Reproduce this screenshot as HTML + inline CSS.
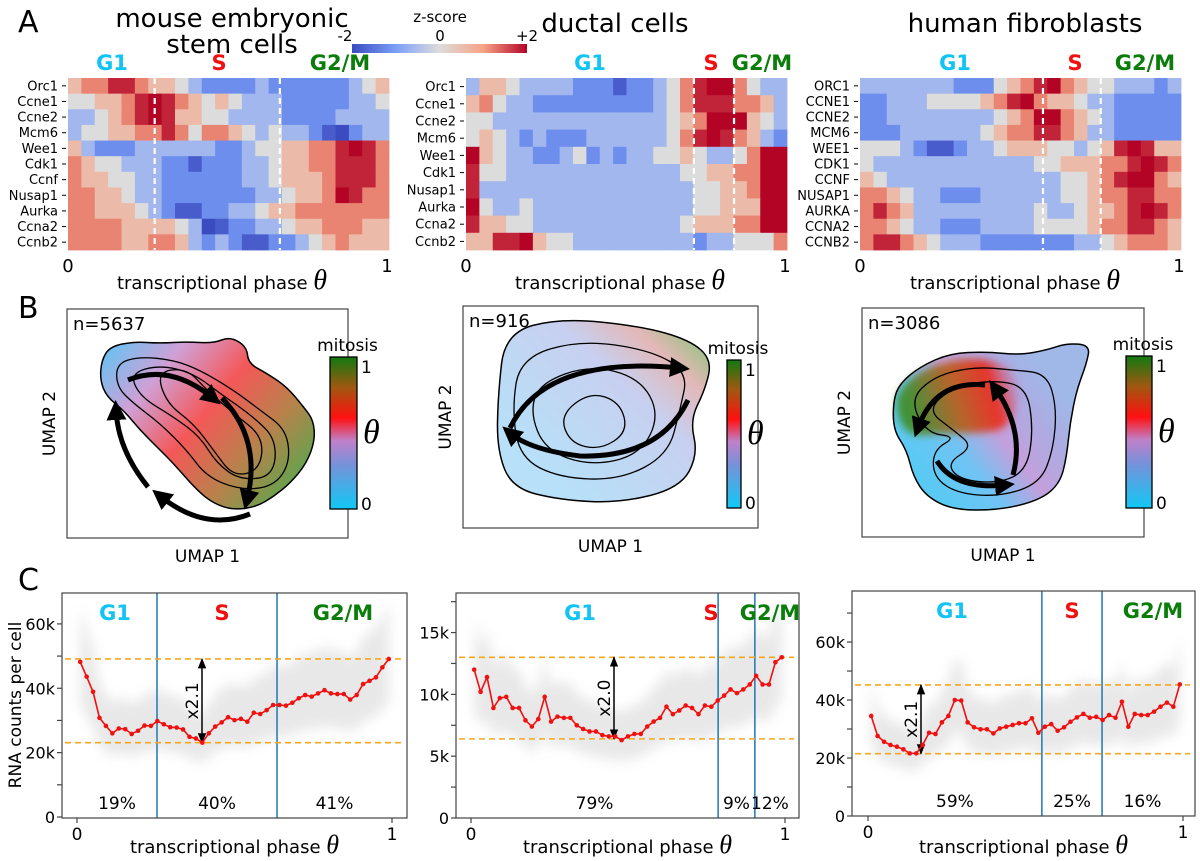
<!DOCTYPE html>
<html><head><meta charset="utf-8">
<style>
html,body{margin:0;padding:0;background:#fff;}
svg{display:block;font-family:"DejaVu Sans","Liberation Sans",sans-serif;}
</style></head>
<body>
<svg id="fig" width="1200" height="861" viewBox="0 0 1200 861" xmlns="http://www.w3.org/2000/svg">
<defs>
<linearGradient id="zcb" x1="0" x2="1" y1="0" y2="0">
<stop offset="0" stop-color="#3b4cc0"/><stop offset="0.25" stop-color="#7b9ff9"/><stop offset="0.5" stop-color="#dddcdc"/><stop offset="0.75" stop-color="#f6a385"/><stop offset="1" stop-color="#b40426"/>
</linearGradient>
<linearGradient id="mcb" x1="0" x2="0" y1="1" y2="0">
<stop offset="0" stop-color="#10c8f5"/><stop offset="0.3" stop-color="#7a90d8"/><stop offset="0.45" stop-color="#c080c8"/><stop offset="0.6" stop-color="#ff1010"/><stop offset="0.8" stop-color="#a05810"/><stop offset="1" stop-color="#107a10"/>
</linearGradient>
<linearGradient id="g1" gradientUnits="userSpaceOnUse" x1="105" y1="345" x2="290" y2="500">
<stop offset="0" stop-color="#30b0f0"/><stop offset="0.25" stop-color="#c080c8"/><stop offset="0.5" stop-color="#f02020"/><stop offset="0.75" stop-color="#a05810"/><stop offset="1" stop-color="#208a10"/>
</linearGradient>
<linearGradient id="g2" gradientUnits="userSpaceOnUse" x1="560" y1="480" x2="690" y2="340">
<stop offset="0" stop-color="#70c0f0"/><stop offset="0.6" stop-color="#90a0e0"/><stop offset="0.85" stop-color="#c87070"/><stop offset="1" stop-color="#50801a"/>
</linearGradient>
<linearGradient id="g3" gradientUnits="userSpaceOnUse" x1="920" y1="480" x2="1050" y2="380">
<stop offset="0" stop-color="#20b8f0"/><stop offset="0.3" stop-color="#40b0f0"/><stop offset="0.55" stop-color="#b080d0"/><stop offset="0.8" stop-color="#9090d8"/><stop offset="1" stop-color="#80a0e0"/>
</linearGradient>
<linearGradient id="g3b" gradientUnits="userSpaceOnUse" x1="905" y1="400" x2="1010" y2="370">
<stop offset="0" stop-color="#3a8a15"/><stop offset="0.45" stop-color="#b85a10"/><stop offset="0.8" stop-color="#f02010"/><stop offset="1" stop-color="#e04060" stop-opacity="0.3"/>
</linearGradient>
<filter id="blur4"><feGaussianBlur stdDeviation="6"/></filter>
<filter id="blur2"><feGaussianBlur stdDeviation="4"/></filter>
<marker id="ah" viewBox="0 0 10 10" refX="5" refY="5" markerWidth="4" markerHeight="4" orient="auto"><path d="M0,0 L10,5 L0,10 z" fill="#000"/></marker>
<marker id="da" viewBox="0 0 10 10" refX="9" refY="5" markerWidth="7" markerHeight="7" orient="auto-start-reverse"><path d="M0,1 L10,5 L0,9 z" fill="#000"/></marker>
</defs>
</svg>
<script>
// ---------- Heatmap data (z-score in half units: value/2 = z) ----------
const genesMouse = ["Orc1","Ccne1","Ccne2","Mcm6","Wee1","Cdk1","Ccnf","Nusap1","Aurka","Ccna2","Ccnb2"];
const heatMouse = [
[1,2,2,3,3,2,1,1,0,-1,-2,-2,-2,-2,-1,-2,-2,-2,-2,-2,-2,-1,0,1],
[0,0,1,1,2,3,4,3,2,1,0,1,0,-1,-1,-1,-2,-2,-2,-2,-2,-1,-1,0],
[-1,-1,0,1,2,3,4,3,1,1,0,0,-1,-1,-1,-1,-2,-2,-2,-2,-1,-1,-1,-1],
[-1,0,0,1,1,2,2,3,2,0,2,2,1,0,-1,0,-1,-1,-2,-3,-4,-2,-1,-1],
[1,-1,-2,-2,-2,-1,-1,-1,-1,-1,-1,-2,-2,-1,0,0,1,1,2,2,3,4,3,2],
[2,1,0,0,-1,-1,-1,-2,-2,-3,-2,-2,-2,-1,-1,0,1,1,2,2,3,3,3,2],
[2,1,1,0,0,-1,-1,-2,-2,-2,-2,-2,-2,-1,-1,0,1,1,1,2,3,3,3,2],
[2,2,1,1,0,-1,-1,-2,-2,-2,-2,-2,-2,-2,-1,-1,0,1,1,2,4,3,2,2],
[2,2,1,1,1,0,-1,-2,-3,-3,-2,-2,-1,-1,0,1,1,2,2,2,2,2,2,2],
[2,2,2,2,1,1,1,1,0,-1,-4,-3,-2,-2,-1,-1,0,1,1,2,2,2,1,1],
[2,2,2,2,1,1,2,2,1,-1,-2,-1,-2,-3,-3,-2,-2,-1,0,1,2,1,1,1]];
const genesDuct = ["Orc1","Ccne1","Ccne2","Mcm6","Wee1","Cdk1","Nusap1","Aurka","Ccna2","Ccnb2"];
const heatDuct = [
[-1,1,1,0,-1,-1,-1,-1,-2,-2,-2,-3,-2,-2,-1,0,2,3,4,4,2,0,-1,-1],
[1,2,0,-1,-1,-2,-2,-2,-2,-2,-2,-2,-2,-2,-1,0,2,3,3,3,2,2,1,-1],
[0,0,-1,-1,-1,-1,-1,-1,-1,-1,-1,-1,-1,-1,-1,0,1,2,4,4,4,1,0,-1],
[0,1,0,-1,-2,-1,-2,-2,-2,-1,-1,-1,-1,-1,-1,0,2,3,4,3,2,1,-1,-2],
[4,1,0,-1,-1,-2,-2,-1,0,-2,-1,-2,-1,-1,0,0,1,0,-1,-1,0,2,4,4],
[3,0,0,-1,-1,-1,-1,-1,-1,-1,-1,-1,-1,-1,-1,-1,0,0,1,1,2,2,4,4],
[3,-1,-1,-1,-1,-1,-1,-1,-1,-1,-1,-1,-1,-1,-1,-1,-1,0,0,1,1,2,4,4],
[4,0,-1,-1,0,-1,-1,-1,-1,-1,-1,-1,-1,-1,-1,-1,-1,0,0,1,1,1,4,4],
[3,1,1,0,0,-1,-1,-1,-1,-1,-1,-1,-1,-1,-1,-1,0,1,1,1,2,2,4,4],
[1,1,3,3,4,1,0,0,-1,-1,-1,-1,-1,-1,-1,-1,-1,-2,-1,-1,0,0,0,2]];
const genesHuman = ["ORC1","CCNE1","CCNE2","MCM6","WEE1","CDK1","CCNF","NUSAP1","AURKA","CCNA2","CCNB2"];
const heatHuman = [
[-1,-1,-1,-1,-1,-1,-1,-2,-2,-2,0,1,2,3,4,2,1,0,0,-1,-1,-1,-2,-1],
[-2,-2,-1,-1,-1,0,0,0,0,1,2,3,4,2,1,1,0,-1,-1,-2,-2,-2,-2,-2],
[-2,-2,-1,-1,-1,-1,-1,-1,-1,-1,0,1,2,4,4,2,1,0,-1,-2,-2,-2,-2,-2],
[-2,-2,-2,-1,-1,-1,-1,-1,-1,0,1,2,2,3,3,2,1,-1,-1,-2,-2,-2,-2,-2],
[0,0,0,-1,-2,-3,-3,-2,-1,-1,0,1,1,1,0,0,-1,0,1,3,4,3,1,1],
[0,-1,-1,-1,-1,-1,-1,-1,-1,-1,-1,-1,-1,0,0,1,1,1,2,2,3,4,3,2],
[1,0,-1,-1,-1,-1,-1,-1,-1,-1,-1,-1,-1,-1,-1,0,0,1,2,3,4,4,2,1],
[2,2,1,0,-1,-1,-2,-2,-2,-1,-1,-1,-1,-1,-1,0,0,1,2,2,3,3,2,2],
[2,3,2,1,-1,-1,-1,-1,-1,-1,-1,-1,-1,0,-1,-1,0,1,1,2,3,4,3,2],
[2,2,1,0,-1,-1,-2,-2,-2,-1,-1,-1,-1,0,0,0,0,1,2,2,3,3,2,1],
[2,3,3,2,1,0,-1,-1,-1,-2,-2,-2,-2,-2,-2,-2,-1,-1,0,1,2,2,2,1]];
const phaseBoundsMouse = [0.27, 0.66];
const phaseBoundsDuct = [0.71, 0.835];
const phaseBoundsHuman = [0.57, 0.75];

// ---------- RNA count curves (k counts per bin) ----------
const countsMouse = [48.2,43.6,38.9,30.8,28.3,26.0,27.5,27.3,25.8,26.8,28.4,28.3,29.8,28.8,27.9,27.8,27.2,24.9,24.4,23.1,26.0,28.1,29.4,31.0,30.1,30.5,29.6,32.4,32.0,33.2,34.8,34.8,34.6,35.5,36.9,37.9,37.4,38.4,39.4,38.4,38.2,38.2,36.5,37.9,41.3,42.3,43.4,46.5,49.1];
const countsDuct = [12.0,10.2,11.4,8.9,9.7,9.8,8.9,8.9,7.9,7.4,8.0,9.8,7.8,8.2,8.1,8.1,7.5,7.2,7.0,7.0,6.7,6.6,6.6,6.3,6.6,6.8,6.8,7.4,7.8,8.1,9.0,8.4,8.7,9.1,8.9,8.4,9.1,9.0,9.5,9.9,10.4,10.1,10.4,10.8,11.5,10.8,10.8,12.6,13.0];
const countsHuman = [34.5,27.6,25.6,24.5,23.9,23.0,21.6,21.6,24.5,28.7,28.3,32.3,34.5,40.0,39.8,32.3,30.6,29.9,29.9,28.5,30.2,30.8,31.4,32.0,32.0,33.7,28.7,30.8,31.7,29.4,30.6,32.5,34.0,35.2,33.9,34.2,33.1,34.8,33.9,39.4,30.8,35.2,34.8,34.8,36.0,37.7,39.1,37.7,45.4];
const foldMouse = [23.1, 49.1];
const foldDuct = [6.4, 13.0];
const foldHuman = [21.5, 45.2];
const linesMouse = [0.254, 0.635];
const linesDuct = [0.787, 0.904];
const linesHuman = [0.552, 0.743];
const pctMouse = ["19%","40%","41%"];
const pctDuct = ["79%","9%","12%"];
const pctHuman = ["59%","25%","16%"];
const ticksMouse = [0,10,20,30,40,50,60];
const ticksDuct = [0,2.5,5,7.5,10,12.5,15,17.5];
const ticksHuman = [0,10,20,30,40,50,60,70];

const NS = "http://www.w3.org/2000/svg";
const svg = document.getElementById('fig');
function mk(tag, attrs, parent){
  const e = document.createElementNS(NS, tag);
  for (const k in attrs) e.setAttribute(k, attrs[k]);
  (parent||svg).appendChild(e);
  return e;
}
function txt(x,y,s,size,opts,parent){
  const o = Object.assign({x:x,y:y,'font-size':size,fill:'#000'}, opts||{});
  const e = mk('text', o, parent);
  e.textContent = s;
  return e;
}
const stops = [[59,76,192],[123,159,249],[221,220,220],[246,163,133],[180,4,38]];
function cw(v){
  let t = Math.max(0, Math.min(1, 0.5 + v*0.15));
  const p = t*4; const i = Math.min(3, Math.floor(p)); const f = p - i;
  const a = stops[i], b = stops[i+1];
  return 'rgb(' + [0,1,2].map(k => Math.round(a[k] + (b[k]-a[k])*f)).join(',') + ')';
}
const CYAN = '#12c4f4', RED = '#f01010', GREEN = '#0a7d0a';

// ---------- Heatmaps ----------
function heatmap(name, genes, data, bounds, x0, x1, y0, y1, labels, labelX){
  const g = mk('g', {});
  
  
  const nr = genes.length, nc = data[0].length;
  const cwid = (x1-x0)/nc, rh = (y1-y0)/nr;
  for (let r=0;r<nr;r++){
    for (let c=0;c<nc;c++){
      const cell = mk('rect', {x:x0+c*cwid, y:y0+r*rh, width:cwid+0.4, height:rh+0.4, fill:cw(data[r][c])}, g);
      
      
    }
    const gl = txt(x0-10, y0+(r+0.5)*rh+4.5, genes[r], 13, {'text-anchor':'end'}, g);
    
    
    mk('line', {x1:x0-6, x2:x0-2, y1:y0+(r+0.5)*rh, y2:y0+(r+0.5)*rh, stroke:'#000'}, g);
  }
  bounds.forEach(b => {
    const xx = x0 + b*(x1-x0);
    const d = mk('line', {x1:xx, x2:xx, y1:y0, y2:y1, stroke:'#fff', 'stroke-width':2.2, 'stroke-dasharray':'6,4'}, g);
    
    
  });
  const t0 = txt(x0, y1+22, '0', 18, {'text-anchor':'middle'}, g);
  
  
  const t1 = txt(x1-2, y1+22, '1', 18, {'text-anchor':'middle'}, g);
  
  
  const xl = txt(labelX, y1+39, 'transcriptional phase ', 18, {'text-anchor':'middle'}, g);
  
  
  const th = mk('tspan', {'font-family':'Liberation Serif, serif', 'font-style':'italic', 'font-size':28}, xl);
  th.textContent = 'θ';
  const cols = [CYAN, RED, GREEN];
  labels.forEach((L,i) => {
    const pl = txt(L[1], 70, L[0], 21, {'text-anchor':'middle','font-weight':'bold',fill:cols[i]}, g);
    
    
  });
}
heatmap('heatmap-mouse', genesMouse, heatMouse, phaseBoundsMouse, 68, 389, 78, 250, [['G1',112],['S',219],['G2/M',340]], 222);
heatmap('heatmap-ductal', genesDuct, heatDuct, phaseBoundsDuct, 466, 787, 78, 250, [['G1',590],['S',711],['G2/M',762]], 620);
heatmap('heatmap-human', genesHuman, heatHuman, phaseBoundsHuman, 860, 1181, 78, 250, [['G1',955],['S',1075],['G2/M',1145]], 1015);

// titles
const pa = txt(18, 32, 'A', 30);  
const t1 = txt(232, 27, 'mouse embryonic', 26, {'text-anchor':'middle'});  
const t1b = txt(232, 53, 'stem cells', 26, {'text-anchor':'middle'});  
const t2 = txt(615, 32, 'ductal cells', 26, {'text-anchor':'middle'});  
const t3 = txt(1025, 32, 'human fibroblasts', 26, {'text-anchor':'middle'});  
const zc = mk('rect', {x:352, y:44, width:175, height:9, fill:'url(#zcb)'});  
const zl = txt(440, 22, 'z-score', 15, {'text-anchor':'middle'});  
[['-2',345],['0',440],['+2',527]].forEach(p => {
  const e = txt(p[1], 41, p[0], 15, {'text-anchor':'middle'});
  
  
});

// ---------- UMAP panels ----------
const pb = txt(18, 318, 'B', 30);  
function smooth(arr, ox, oy){
  const P = arr.map(p => [p[0]/3+ox, p[1]/3+oy]); const n = P.length;
  let d = 'M' + ((P[0][0]+P[1][0])/2) + ',' + ((P[0][1]+P[1][1])/2);
  for (let i=1;i<=n;i++){ const a = P[i%n], b = P[(i+1)%n]; d += ' Q'+a[0]+','+a[1]+' '+((a[0]+b[0])/2)+','+((a[1]+b[1])/2); }
  return d + 'Z';
}
function umap(name, box, cb, n, outline, fill, inner, arrows, ox, oy, extra, op){
  const g = mk('g', {});
  
  
  const bx = mk('rect', {x:box[0], y:box[1], width:box[2]-box[0], height:box[3]-box[1], fill:'#fff', stroke:'#444', 'stroke-width':1.2}, g);
  
  
  const cloud = mk('path', {d:smooth(outline, ox, oy), fill:fill, opacity:op}, g);
  
  
  if (extra) { const ex = mk('path', {d:smooth(extra, ox, oy), fill:'url(#g3b)', opacity:0.85, filter:'url(#blur2)'}, g);   }
  const oc = mk('path', {d:smooth(outline, ox, oy), fill:'none', stroke:'#000', 'stroke-width':1.5}, g);
  
  
  inner.forEach(c => {
    const ic = mk('path', {d:smooth(c, ox, oy), fill:'none', stroke:'#000', 'stroke-width':1.3}, g);
    
    
  });
  arrows.forEach(a => {
    const ar = mk('path', {d:a, fill:'none', stroke:'#000', 'stroke-width':5, 'marker-end':'url(#ah)'}, g);
    
    
  });
  const nl = txt(box[0]+6, box[1]+21, n, 18, {}, g);
  
  
  const cr = mk('rect', {x:cb[0], y:cb[1], width:cb[2]-cb[0], height:cb[3]-cb[1], fill:'url(#mcb)', stroke:'#000', 'stroke-width':1.3}, g);
  
  
  const mt = txt((cb[0]+cb[2])/2+4, cb[1]-6, 'mitosis', 17, {'text-anchor':'middle'}, g);
  
  
  const c1 = txt(cb[2]+4, cb[1]+16, '1', 17, {}, g);  
  const c0 = txt(cb[2]+4, cb[3]+1, '0', 17, {}, g);  
  const th = txt(cb[2]+6, (cb[1]+cb[3])/2+10, 'θ', 34, {'font-family':'Liberation Serif, serif','font-style':'italic'}, g);
   
  const u1 = txt((box[0]+box[2])/2, box[3]+24, 'UMAP 1', 17, {'text-anchor':'middle'}, g);
   
  const cy = (box[1]+box[3])/2;
  const u2 = txt(box[0]-12, cy, 'UMAP 2', 17, {'text-anchor':'middle', transform:'rotate(-90 '+(box[0]-12)+' '+cy+')'}, g);
   
}
const x3 = a => a.map(p => [p[0]*3, p[1]*3]);
umap('umap-mouse', [67,309,348,538], [330,357,357,509], 'n=5637',
  [[305,210],[330,170],[400,155],[480,160],[560,155],[640,160],[690,140],[740,170],[745,220],[800,250],[860,290],[910,350],[940,390],[945,450],[920,520],[870,580],[820,620],[770,650],[700,660],[640,640],[590,600],[520,520],[470,470],[420,420],[370,360],[320,320],[300,270]],
  'url(#g1)',
  [[[350,220],[420,200],[520,210],[600,240],[700,300],[780,360],[860,420],[870,520],[820,590],[720,600],[620,560],[560,480],[480,400],[400,340],[350,290]],
   [[390,250],[480,225],[580,250],[660,310],[760,380],[830,450],[820,560],[720,570],[650,520],[600,440],[520,380],[420,320]],
   [[470,245],[560,235],[620,300],[700,370],[790,440],[780,540],[700,560],[640,480],[580,400],[500,340]]],
  ['M128,380 Q170,363 213,398', 'M222,398 Q262,440 247,500', 'M250,514 Q205,532 160,496', 'M148,487 Q118,450 116,410'],
  0, 290, null, 0.75);
umap('umap-ductal', [463,306,758,528], [727,360,741,508], 'n=916',
  x3([[505,333],[560,318],[640,326],[690,340],[712,360],[705,390],[690,420],[698,455],[680,488],[620,503],[560,500],[512,488],[497,450],[498,395]]),
  'url(#g2)',
  [x3([[520,358],[580,340],[650,350],[688,372],[680,410],[668,455],[620,480],[560,478],[520,458],[512,410]]),
   x3([[540,383],[590,365],[640,378],[660,415],[640,455],[590,466],[545,450],[530,412]]),
   x3([[560,415],[590,392],[620,402],[628,432],[600,450],[570,443]])],
  ['M510,428 Q545,355 680,368', 'M688,400 Q660,458 580,456 Q530,450 510,433'],
  0, 0, null, 0.5);
umap('umap-human', [862,308,1144,537], [1126,356,1152,508], 'n=3086',
  [[280,330],[300,280],[360,230],[450,190],[560,185],[660,195],[740,180],[800,160],[870,165],[860,220],[830,300],[810,400],[800,500],[780,580],[720,630],[600,660],[460,660],[380,620],[340,560],[320,480],[280,420]],
  'url(#g3)',
  [[[330,330],[400,260],[520,230],[640,240],[740,250],[770,350],[760,480],[720,580],[600,620],[470,610],[400,560],[400,480],[470,440],[380,430]],
   [[380,360],[460,290],[580,270],[680,290],[700,420],[680,540],[600,580],[480,570],[440,520],[520,470],[460,420]]],
  ['M937,461 Q955,490 1005,485', 'M1013,475 Q1025,430 995,388', 'M985,385 Q935,380 918,428'],
  800, 290,
  [[290,300],[380,230],[520,200],[640,230],[660,330],[620,420],[520,430],[420,430],[330,440],[290,380]], 0.75);

// ---------- RNA counts panels ----------
const pc = txt(18, 590, 'C', 30);  
function counts(name, ax, xr, yr, vals, fold, lines, pct, ticks, tickFmt, labelEvery, phaseLabels, foldText){
  const g = mk('g', {});
  
  
  const [L,T,R,B] = ax;
  const xs = p => xr[0] + p*(xr[1]-xr[0]);
  const ys = v => yr[0] - (v - 0)*(yr[0]-yr[1])/yr[2];
  const clip = 'clip-'+name;
  const cp = mk('clipPath', {id:clip}, g); mk('rect', {x:L, y:T, width:R-L, height:B-T}, cp);
  const cg = mk('g', {'clip-path':'url(#'+clip+')'}, g);
  const up = vals.map((v,i) => xs((i+0.5)/vals.length)+','+ys(v*1.35));
  const dn = vals.map((v,i) => xs((i+0.5)/vals.length)+','+ys(v*0.72)).reverse();
  const band = mk('polygon', {points:up.concat(dn).join(' '), fill:'#999', opacity:0.22, filter:'url(#blur4)'}, cg);
  
  
  lines.forEach(p => {
    const l = mk('line', {x1:xs(p), x2:xs(p), y1:T, y2:B, stroke:'#1f77b4', 'stroke-width':1.5}, g);
    
    
  });
  fold.forEach(f => {
    const l = mk('line', {x1:L+3, x2:R-5, y1:ys(f), y2:ys(f), stroke:'#f5a623', 'stroke-width':1.6, 'stroke-dasharray':'6,4'}, g);
    
    
  });
  const ax0 = foldText[1];
  const ar = mk('line', {x1:ax0, x2:ax0, y1:ys(fold[0]), y2:ys(fold[1]), stroke:'#000', 'stroke-width':1.5, 'marker-start':'url(#da)', 'marker-end':'url(#da)'}, g);
  
  
  const fy = (ys(fold[0])+ys(fold[1]))/2;
  const ft = txt(ax0-4, fy, foldText[0], 17, {'text-anchor':'middle', transform:'rotate(-90 '+(ax0-4)+' '+fy+')'}, g);
  
  
  const pl = mk('polyline', {points:vals.map((v,i) => xs((i+0.5)/vals.length)+','+ys(v)).join(' '), fill:'none', stroke:'#f01010', 'stroke-width':1.6}, g);
  
  
  vals.forEach((v,i) => {
    const c = mk('circle', {cx:xs((i+0.5)/vals.length), cy:ys(v), r:2.3, fill:'#f01010'}, g);
    
    
  });
  const fr = mk('rect', {x:L, y:T, width:R-L, height:B-T, fill:'none', stroke:'#444', 'stroke-width':1.2}, g);
  
  
  ticks.forEach((t,i) => {
    const y = ys(t);
    if (y < T-1 || y > B+1) return;
    mk('line', {x1:L-5, x2:L, y1:y, y2:y, stroke:'#444', 'stroke-width':1.2}, g);
    if (i % labelEvery === 0) {
      const tl = txt(L-7, y+6, tickFmt(t), 16, {'text-anchor':'end'}, g);
      
      
    }
  });
  [0,1].forEach(p => {
    mk('line', {x1:xs(p), x2:xs(p), y1:B, y2:B+5, stroke:'#444', 'stroke-width':1.2}, g);
    const tl = txt(xs(p), B+22, String(p), 17, {'text-anchor':'middle'}, g);
    
    
  });
  const bnds = [0].concat(lines).concat([1]);
  pct.forEach((s,i) => {
    const cx = (xs(bnds[i]) + xs(bnds[i+1]))/2;
    const tt = txt(cx, B-9, s, 17, {'text-anchor':'middle'}, g);
    
    
  });
  const cols = [CYAN, RED, GREEN];
  phaseLabels.forEach((p,i) => {
    const e = txt(p[1], T+27, p[0], 21, {'text-anchor':'middle','font-weight':'bold',fill:cols[i]}, g);
    
    
  });
  const xl = txt((L+R)/2, 853, 'transcriptional phase ', 18, {'text-anchor':'middle'}, g);
  
  
  const th = mk('tspan', {'font-family':'Liberation Serif, serif','font-style':'italic','font-size':26}, xl);
  th.textContent = 'θ';
}
const kfmt = t => t === 0 ? '0' : (t + 'k');
counts('counts-mouse', [62,593,407,818], [77,392], [817,593,69.6], countsMouse, foldMouse, linesMouse, pctMouse, ticksMouse, kfmt, 2, [['G1',115],['S',222],['G2/M',343]], ['x2.1',202]);
counts('counts-ductal', [456,593,799,818], [471,785], [818,593,18.2], countsDuct, foldDuct, linesDuct, pctDuct, ticksDuct, kfmt, 2, [['G1',580],['S',711],['G2/M',770]], ['x2.0',614]);
counts('counts-human', [852,591,1195,816], [868,1183], [816,591,77.6], countsHuman, foldHuman, linesHuman, pctHuman, ticksHuman, kfmt, 2, [['G1',952],['S',1072],['G2/M',1153]], ['x2.1',921]);
const yl = txt(21, 705, 'RNA counts per cell', 17, {'text-anchor':'middle', transform:'rotate(-90 21 705)'});


</script>
</body></html>
